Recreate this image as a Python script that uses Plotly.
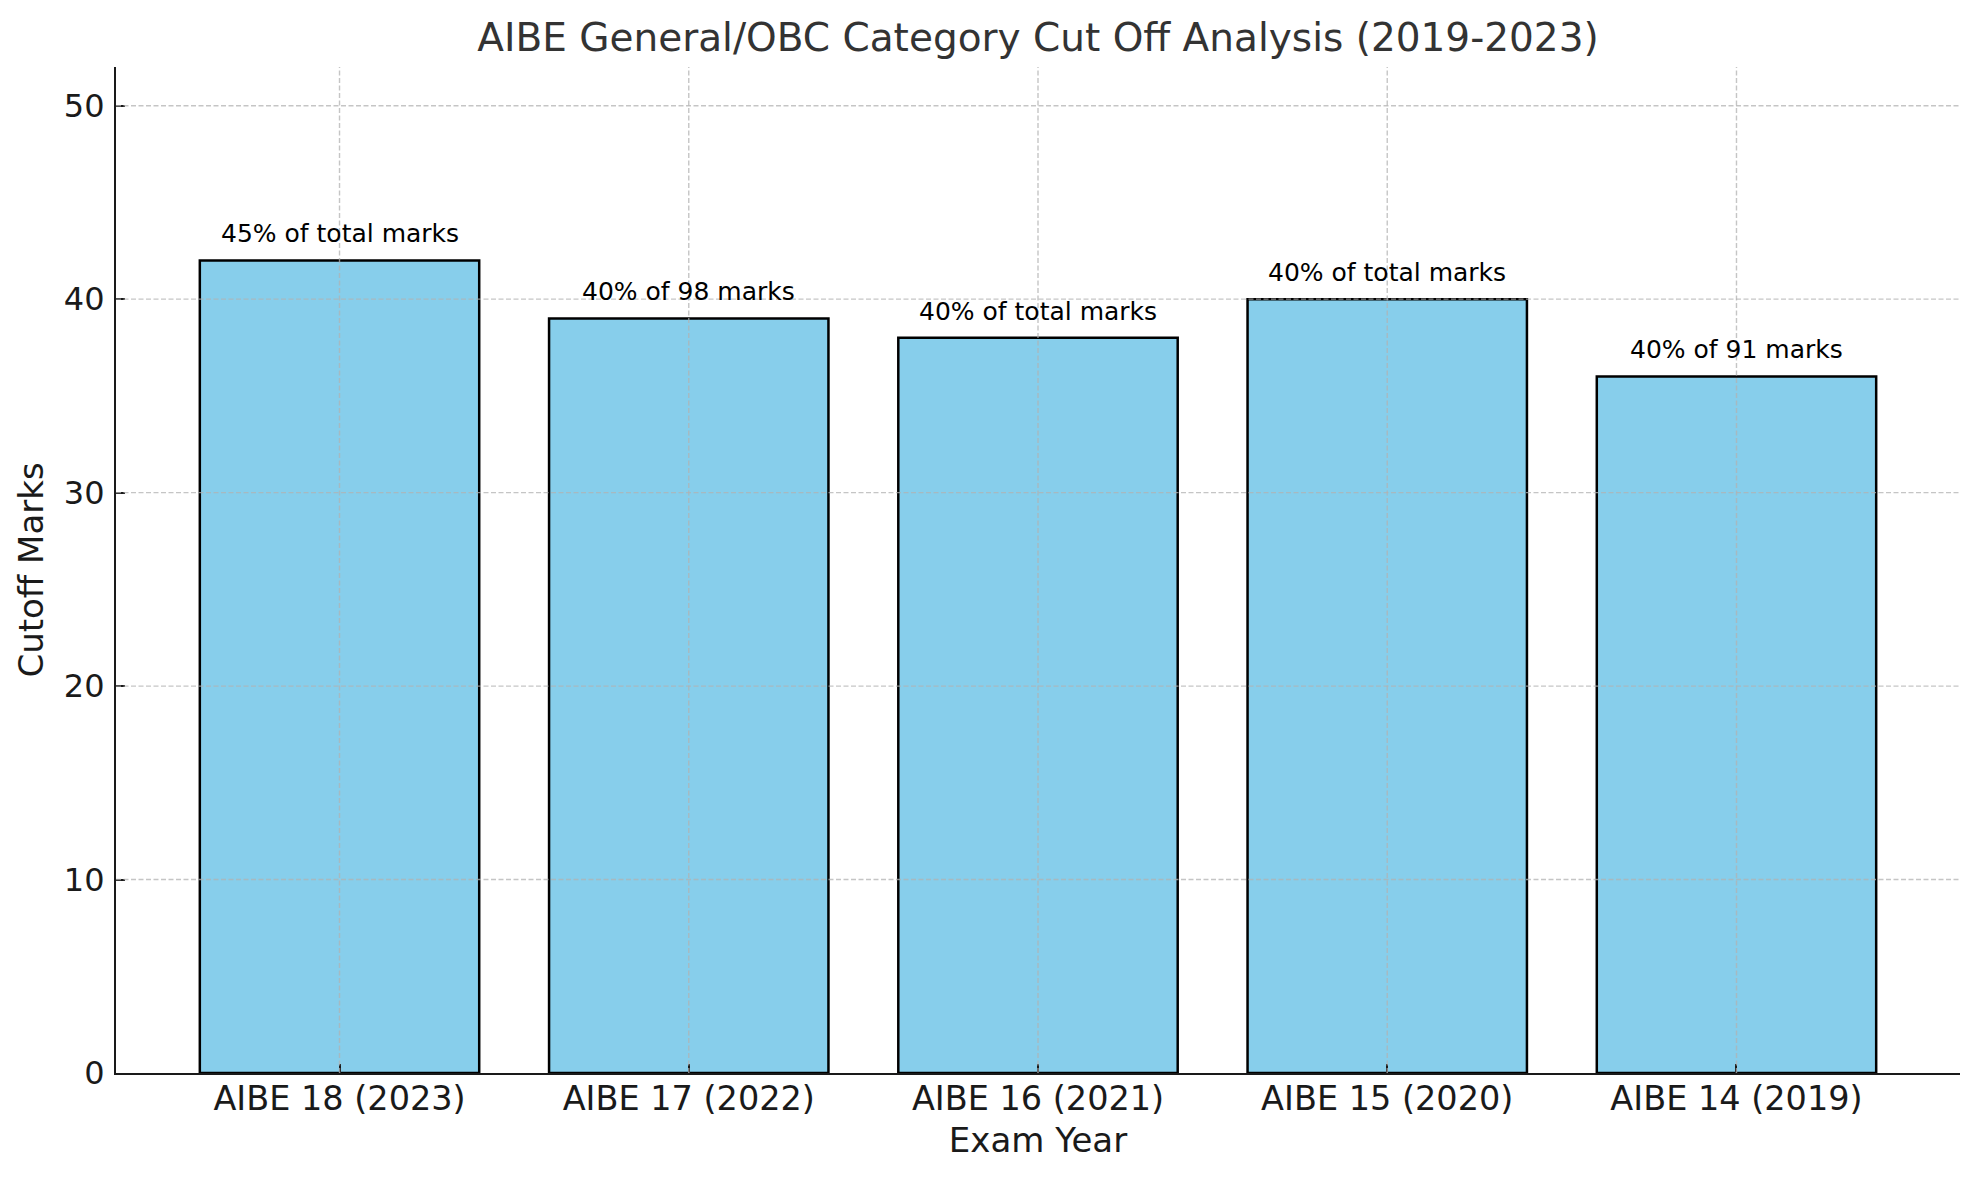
import plotly.graph_objects as go

categories = ["AIBE 18 (2023)", "AIBE 17 (2022)", "AIBE 16 (2021)", "AIBE 15 (2020)", "AIBE 14 (2019)"]
cutoff_marks = [42, 39, 38, 40, 36]
bar_labels = ["45% of total marks", "40% of 98 marks", "40% of total marks", "40% of total marks", "40% of 91 marks"]
y_ticks = [0, 10, 20, 30, 40, 50]

FONT = "DejaVu Sans"
GRID = "rgba(178,178,178,0.75)"

fig = go.Figure()
fig.add_trace(go.Bar(
    x=list(range(len(categories))),
    y=cutoff_marks,
    width=0.8,
    marker=dict(color="#87CEEB", line=dict(color="black", width=2.5)),
    hoverinfo="skip",
))

for i, (v, t) in enumerate(zip(cutoff_marks, bar_labels)):
    fig.add_annotation(x=i, y=v + 1, text=t, showarrow=False, yanchor="bottom",
                       yshift=-9, font=dict(family=FONT, size=25, color="black"))

# grid lines drawn above bars (as in the reference)
for yv in y_ticks[1:]:
    fig.add_hline(y=yv, line=dict(color=GRID, width=1.4, dash="5px,2.5px"), layer="above")
for i in range(len(categories)):
    fig.add_vline(x=i, line=dict(color=GRID, width=1.4, dash="5px,2.5px"), layer="above")

fig.update_layout(
    width=1979, height=1180,
    margin=dict(l=116, r=19, t=67, b=107),
    plot_bgcolor="white", paper_bgcolor="white",
    showlegend=False,
    title=dict(text="AIBE General/OBC Category Cut Off Analysis (2019-2023)",
               x=0.5, xref="paper", xanchor="center", y=1 - 37.5 / 1180, yanchor="middle",
               font=dict(family=FONT, size=39, color="#333333")),
    bargap=0.2,
)
fig.update_xaxes(
    range=[-0.64, len(categories) - 1 + 0.64],
    tickmode="array", tickvals=list(range(len(categories))), ticktext=categories,
    showgrid=False, zeroline=False,
    showline=True, linecolor="#1a1a1a", linewidth=2.2,
    ticks="inside", ticklen=9, tickwidth=2, tickcolor="#1a1a1a",
    ticklabelstandoff=-5,
    tickfont=dict(family=FONT, size=33.5, color="#1a1a1a"),
    title=dict(text="Exam Year", font=dict(family=FONT, size=34, color="#1a1a1a"), standoff=11),
)
fig.update_yaxes(
    range=[0, 52],
    tickmode="array", tickvals=y_ticks,
    showgrid=False, zeroline=False,
    showline=True, linecolor="#1a1a1a", linewidth=2.2,
    ticks="inside", ticklen=9, tickwidth=2, tickcolor="#1a1a1a",
    ticklabelstandoff=3,
    tickfont=dict(family=FONT, size=32, color="#1a1a1a"),
    title=dict(text="Cutoff Marks", font=dict(family=FONT, size=34, color="#1a1a1a"), standoff=10),
)

fig.write_html("out.html", config={"displayModeBar": False},
               post_script="document.body.style.margin='0px';")
